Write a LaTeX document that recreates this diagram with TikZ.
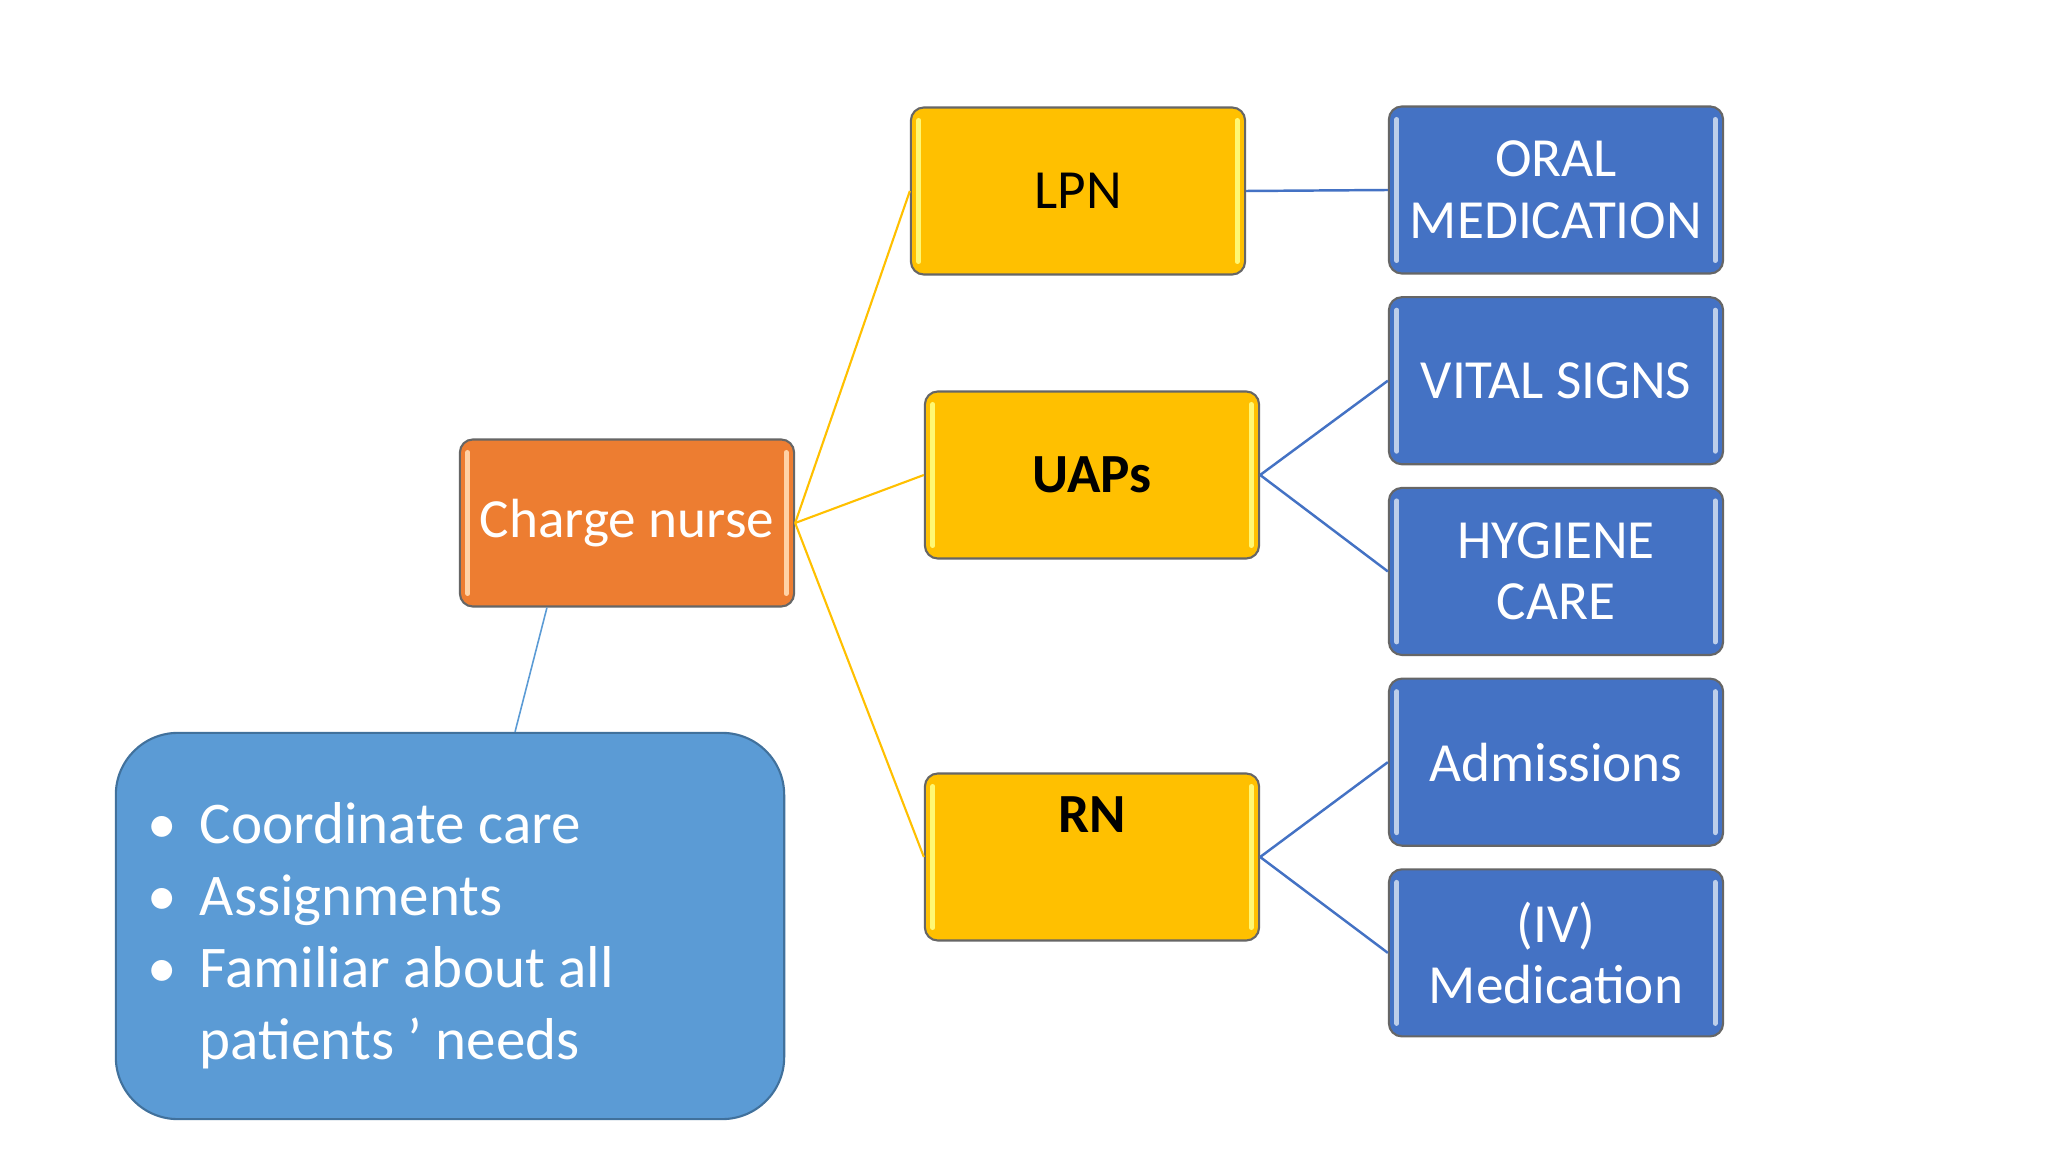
\documentclass[tikz,border=0pt]{standalone}
\usepackage{fontspec}
\setmainfont{Carlito}
\usetikzlibrary{positioning}
\usepackage{xcolor}
\definecolor{roleOrange}{HTML}{ED7D31}
\definecolor{roleYellow}{HTML}{FFC000}
\definecolor{taskBlue}{HTML}{4472C4}
\definecolor{noteBlue}{HTML}{5B9BD5}
\definecolor{noteEdge}{HTML}{41719C}
\tikzset{
    % Shine on the box edges
    gloss/.style={path picture={
        \draw[#1, line width=1.4pt, line cap=round]
            ([xshift=0.08cm, yshift=-0.13cm]path picture bounding box.north west) --
            ([xshift=0.08cm, yshift=0.13cm]path picture bounding box.south west);
        \draw[#1, line width=1.4pt, line cap=round]
            ([xshift=-0.08cm, yshift=-0.13cm]path picture bounding box.north east) --
            ([xshift=-0.08cm, yshift=0.13cm]path picture bounding box.south east);
    }},
    % Shapes
    box/.style={rectangle, draw=black!60, line width=0.6pt, rounded corners=0.13cm,
                minimum width=3.34cm, minimum height=1.67cm, align=center, inner sep=2pt,
                font=\fontsize{15.7}{17.5}\selectfont},
    charge/.style={box, fill=roleOrange, text=white, gloss=orange!35!white},
    role/.style={box, fill=roleYellow, text=black, gloss=yellow!55!white},
    task/.style={box, fill=taskBlue, text=white, gloss=taskBlue!35!white},
    note/.style={rectangle, draw=noteEdge, fill=noteBlue, line width=0.6pt, rounded corners=0.62cm,
                 minimum width=6.68cm, minimum height=3.86cm, text=white, inner xsep=0.4cm,
                 text width=5.88cm, align=left, font=\fontsize{16.8}{20.5}\selectfont},
    % Links
    roleLink/.style={roleYellow, line width=0.6pt},
    taskLink/.style={taskBlue, line width=0.7pt},
    noteLink/.style={noteBlue, line width=0.45pt}
}

\begin{document}
\begin{tikzpicture}[x=0.01cm, y=-0.01cm]
\useasboundingbox[fill=white] (0,0) rectangle (2048,1152);

\node[charge] (charge) at (627,523) {Charge nurse};
\node[role] (lpn) at (1078,191) {LPN};
\node[role] (uaps) at (1092,475) {\textbf{UAPs}};
\node[role] (rn) at (1092,857) {\textbf{RN}\\[0.04cm]\strut};

\node[task] (oral) at (1556,190) {ORAL\\MEDICATION};
\node[task, below=0.215cm of oral] (vital) {VITAL SIGNS};
\node[task, below=0.215cm of vital] (hygiene) {HYGIENE\\CARE};
\node[task, below=0.215cm of hygiene] (adm) {Admissions};
\node[task, below=0.215cm of adm] (iv) {(IV)\\Medication};

\node[note] (duties) at (450,926) {\spaceskip=0pt\relax
    \begin{tabular}{@{}p{0.44cm}@{}l@{}}
    \hspace*{-0.08cm}\textbullet & \rule{0pt}{0.72cm}Coordinate care\\
    \hspace*{-0.08cm}\textbullet & Assignments\\
    \hspace*{-0.08cm}\textbullet & Familiar about all\\
                & patients ’ needs
    \end{tabular}};

\draw[roleLink] (charge.east) -- (lpn.west);
\draw[roleLink] (charge.east) -- (uaps.west);
\draw[roleLink] (charge.east) -- (rn.west);
\draw[taskLink] (lpn.east) -- (oral.west);
\draw[taskLink] (uaps.east) -- (vital.west);
\draw[taskLink] (uaps.east) -- (hygiene.west);
\draw[taskLink] (rn.east) -- (adm.west);
\draw[taskLink] (rn.east) -- (iv.west);
\draw[noteLink] ([xshift=-0.8cm]charge.south) -- ([xshift=0.65cm]duties.north);

\end{tikzpicture}
\end{document}
